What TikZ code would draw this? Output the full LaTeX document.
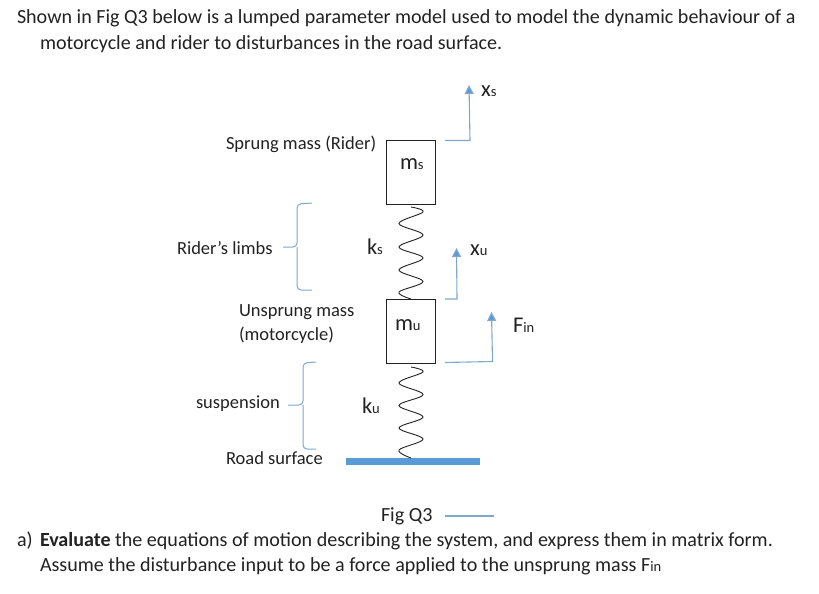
\documentclass[tikz,border=0pt]{standalone}
\usepackage{fontspec}
\setmainfont{Carlito}
\usetikzlibrary{arrows.meta}
\definecolor{linkblue}{HTML}{7FA8CF}
\definecolor{solidblue}{HTML}{5B9BD5}
\definecolor{inkgrey}{HTML}{222222}
\tikzset{
  x=1pt,y=-1pt,
  body/.style={anchor=base west,inner sep=0pt,outer sep=0pt,text=inkgrey,font=\fontsize{20.07}{23}\selectfont},
  label/.style={anchor=base west,inner sep=0pt,outer sep=0pt,text=inkgrey,font=\fontsize{18.5}{21}\selectfont},
  symb/.style={anchor=base west,inner sep=0pt,outer sep=0pt,text=inkgrey,font=\fontsize{22.5}{24}\selectfont},
  mass/.style={draw=inkgrey,line width=0.9pt,fill=white,minimum width=49pt,minimum height=64pt,inner sep=0pt},
  spring/.style={draw=inkgrey,line width=0.9pt},
  pointer/.style={draw=linkblue,line width=1.1pt,-{Triangle[length=9pt,width=9pt,fill=solidblue]}},
  rule/.style={draw=linkblue,line width=1.1pt},
  brace/.style={draw=linkblue,line width=1pt,rounded corners=4pt}
}
\newcommand{\sm}[1]{{\fontsize{14.5}{15}\selectfont #1}}
\begin{document}
\begin{tikzpicture}
\useasboundingbox (0,0) rectangle (819,594);
\fill[white] (0,0) rectangle (819,594);
% body text
\node[body] (t1) at (17,24) {Shown in Fig Q3 below is a lumped parameter model used to model the dynamic behaviour of a};
\node[body] (t2) at (40,50) {motorcycle and rider to disturbances in the road surface.};
\node[body] (t3) at (381,521) {Fig Q3};
\node[body] (t4) at (17,546) {a)};
\node[body] (t5) at (40,546) {\textbf{Evaluate} the equations of motion describing the system, and express them in matrix form.};
\node[body] (t6) at (40,571) {Assume the disturbance input to be a force applied to the unsprung mass F\sm{in}};
% labels
\node[label] (l1) at (226,149) {Sprung mass (Rider)};
\node[label] (l2) at (177,254) {Rider’s limbs};
\node[label] (l3) at (239,316) {Unsprung mass};
\node[label] (l4) at (239,340) {(motorcycle)};
\node[label] (l5) at (196,408) {suspension};
\node[label] (l6) at (226,464) {Road surface};
\node[symb] (ks) at (367,254) {k\sm{s}};
\node[symb] (ku) at (362,413) {k\sm{u}};
\node[symb] (xs) at (481,96) {x\sm{s}};
\node[symb] (xu) at (470,255) {x\sm{u}};
\node[symb] (fin) at (513,332) {F\sm{in}};
% masses
\node[mass] (ms) at (410.5,172) {};
\node[mass] (mu) at (410.5,331) {};
\node[symb] at (400,169) {m\sm{s}};
\node[symb] at (395,330) {m\sm{u}};
% road
\node[fill=solidblue,minimum width=134pt,minimum height=7pt,inner sep=0pt] (road) at (413,461.5) {};
% springs
\draw[spring] plot[smooth,tension=0.6] coordinates {(411,207) (423,212) (399,223.5) (423,235) (399,247) (423,258) (399,270) (423,281.5) (399,292) (411,299)};
\draw[spring] plot[smooth,tension=0.6] coordinates {(411,367) (423,372) (399,383) (423,394.5) (399,405.5) (423,417) (399,428) (423,439) (399,450) (411,458)};
% pointers
\coordinate (a1) at (445,140.5); \coordinate (a2) at (470,140.5); \coordinate (a3) at (469,85);
\draw[pointer] (a1) -- (a2) -- (a3);
\coordinate (b1) at (445,299); \coordinate (b2) at (457,299); \coordinate (b3) at (456.5,248);
\draw[pointer] (b1) -- (b2) -- (b3);
\coordinate (c1) at (445,362.5); \coordinate (c2) at (492.5,361.5); \coordinate (c3) at (491.5,312);
\draw[pointer] (c1) -- (c2) -- (c3);
\coordinate (d1) at (445,516); \coordinate (d2) at (494,516);
\draw[rule] (d1) -- (d2);
% braces
\draw[brace] (312,203) -- (297,204) -- (297,247) -- (283,247);
\draw[brace] (297,247) -- (297,290) -- (312,290);
\draw[brace] (316,362) -- (303,363) -- (303,405) -- (288,405);
\draw[brace] (303,405) -- (303,449) -- (316,449);
\end{tikzpicture}
\end{document}
